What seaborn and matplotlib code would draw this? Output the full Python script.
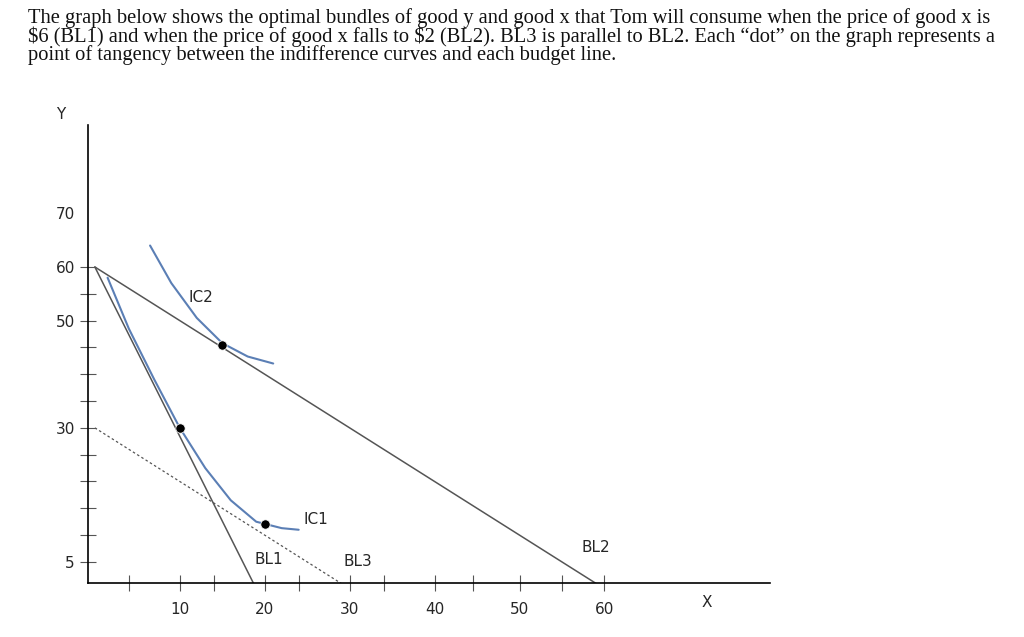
import matplotlib
matplotlib.use("Agg")
import matplotlib.pyplot as plt
import seaborn as sns
import pandas as pd

sns.set_theme(style="white")
plt.rcParams['font.family'] = ['DejaVu Sans']

bl1_x = [0, 19]; bl1_y = [60, 0]
bl2_x = [0, 60]; bl2_y = [60, 0]
bl3_x = [0, 30]; bl3_y = [30, 0]
ic1_x = [1.5, 4, 7, 10, 13, 16, 19, 22, 24]
ic1_y = [58, 48.5, 39, 30, 22.5, 16.5, 12.5, 11.3, 11]
ic2_x = [6.5, 9, 12, 15, 18, 21]
ic2_y = [64, 57, 50.5, 45.8, 43.3, 42]
dots_x = [10, 15, 20]
dots_y = [30, 45.5, 12]
xtick_pos = [4, 10, 14, 20, 24, 30, 34, 40, 44.5, 50, 55, 60]
xtick_lab = {10: "10", 20: "20", 30: "30", 40: "40", 50: "50", 60: "60"}
ytick_pos = [5, 10, 15, 20, 25, 30, 35, 40, 45, 50, 55, 60]
ytick_lab = {5: "5", 30: "30", 50: "50", 60: "60"}

fig = plt.figure(figsize=(10.24, 6.37), dpi=100)
fig.text(0.027, 0.988,
         "The graph below shows the optimal bundles of good y and good x that Tom will consume when the price of good x is\n"
         "\\$6 (BL1) and when the price of good x falls to \\$2 (BL2). BL3 is parallel to BL2. Each \u201cdot\u201d on the graph represents a\n"
         "point of tangency between the indifference curves and each budget line.",
         family="Liberation Serif", fontsize=14.8, va="top", linespacing=0.9, color="#111111")
ax = fig.add_axes([0.086, 0.085, 0.666, 0.719])
gray = "#555555"; blue = "#5b7fb5"
sns.lineplot(x=bl1_x, y=bl1_y, ax=ax, color=gray, lw=1.1)
sns.lineplot(x=bl2_x, y=bl2_y, ax=ax, color=gray, lw=1.1)
sns.lineplot(x=bl3_x, y=bl3_y, ax=ax, color=gray, lw=0.9, linestyle=(0, (2, 2)))
sns.lineplot(x=ic1_x, y=ic1_y, ax=ax, color=blue, lw=1.5, sort=False)
sns.lineplot(x=ic2_x, y=ic2_y, ax=ax, color=blue, lw=1.5, sort=False)
sns.scatterplot(x=dots_x, y=dots_y, ax=ax, color="black", s=45, marker="o", zorder=5)

ax.set_xlim(-0.8, 79.5)
ax.set_ylim(1.1, 86.5)
for s in ["top", "right"]:
    ax.spines[s].set_visible(False)
for s in ["left", "bottom"]:
    ax.spines[s].set_color("black"); ax.spines[s].set_linewidth(1.2)
ax.set_xticks(xtick_pos)
ax.set_xticklabels([xtick_lab.get(p, "") for p in xtick_pos])
ax.set_yticks(ytick_pos + [70])
ax.set_yticklabels([ytick_lab.get(p, "") for p in ytick_pos] + ["70"])
ax.tick_params(axis="both", direction="inout", length=12, width=0.8, color=gray,
               labelsize=11, bottom=True, left=True)
ax.tick_params(axis="x", pad=8)
ax.yaxis.get_major_ticks()[-1].tick1line.set_visible(False)

ax.text(-4, 87, "Y", fontsize=11, ha="center", va="bottom", clip_on=False)
ax.text(72, -2.6, "X", fontsize=11, ha="center", va="center", clip_on=False)
ax.text(20.5, 4.6, "BL1", fontsize=11, ha="center")
ax.text(31, 4.3, "BL3", fontsize=11, ha="center")
ax.text(59, 6.8, "BL2", fontsize=11, ha="center")
ax.text(26, 12, "IC1", fontsize=11, ha="center")
ax.text(12.5, 53.5, "IC2", fontsize=11, ha="center")
fig.savefig("out.png", dpi=100)
